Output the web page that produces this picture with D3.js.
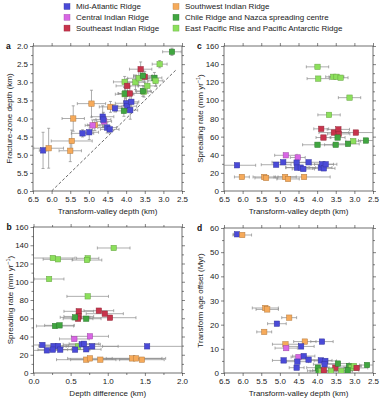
<!DOCTYPE html>
<html>
<head>
<meta charset="utf-8">
<script src="https://cdn.jsdelivr.net/npm/d3@7"></script>
<style>
  body { margin: 0; background: #fff; }
  svg { font-family: "Liberation Sans", Arial, sans-serif; }
</style>
</head>
<body>
<svg id="fig" width="382" height="400"></svg>
<script>
// ridge groups, legend order is column by column
var regions = ["Mid-Atlantic Ridge", "Central Indian Ridge", "Southeast Indian Ridge",
               "Southwest Indian Ridge", "Chile Ridge and Nazca spreading centre",
               "East Pacific Rise and Pacific Antarctic Ridge"];
var colours = ["#4a4ad8", "#d866e4", "#c8344c", "#f6aa5a", "#40a640", "#8ce05c"];

var depthTicks = [6.5, 6.0, 5.5, 5.0, 4.5, 4.0, 3.5, 3.0, 2.5];
var fzTicks = [2.0, 2.5, 3.0, 3.5, 4.0, 4.5, 5.0, 5.5, 6.0];
var rateTicks = [0, 20, 40, 60, 80, 100, 120, 140, 160];
var diffTicks = [0.0, 0.5, 1.0, 1.5, 2.0];
var ageTicks = [0, 10, 20, 30, 40, 50, 60];

// 1:1 line in panel a (transform-valley depth from..to)
var oneToOne = [6.0, 2.65];

// a: [region, valley depth, fracture-zone depth, x error, y error]
var panelA = [
  [0, 6.23, 4.88, 0.1, 0.5], [3, 6.08, 4.82, 0.4, 0.55], [3, 5.50, 4.89, 0.3, 0.3],
  [3, 5.46, 4.62, 0.55, 0.3], [3, 5.42, 4.00, 0.3, 0.35], [3, 4.93, 3.59, 0.38, 0.37],
  [3, 4.42, 3.68, 0.3, 0.15], [3, 4.84, 4.18, 0.2, 0.15], [1, 4.90, 4.19, 0.2, 0.15],
  [1, 4.59, 4.08, 0.2, 0.15], [0, 5.17, 4.41, 0.3, 0.1], [0, 4.99, 4.38, 0.25, 0.2],
  [0, 4.63, 3.95, 0.3, 0.3], [0, 4.61, 4.03, 0.2, 0.2], [0, 4.51, 4.25, 0.25, 0.15],
  [0, 4.44, 4.30, 0.25, 0.1], [0, 4.30, 3.72, 0.2, 0.1], [0, 3.99, 3.58, 0.3, 0.2],
  [0, 3.97, 3.66, 0.25, 0.15], [0, 3.86, 3.54, 0.2, 0.2], [0, 3.89, 3.77, 0.2, 0.25],
  [4, 4.06, 3.79, 0.2, 0.15], [5, 4.04, 2.99, 0.3, 0.15], [5, 4.04, 3.33, 0.25, 0.2],
  [4, 4.02, 3.31, 0.2, 0.15], [2, 3.97, 3.10, 0.3, 0.2], [2, 3.90, 3.31, 0.3, 0.2],
  [2, 3.61, 2.64, 0.3, 0.2], [2, 3.50, 2.85, 0.3, 0.15], [5, 3.75, 3.00, 0.25, 0.2],
  [5, 3.66, 2.89, 0.3, 0.2], [4, 3.55, 2.82, 0.25, 0.15], [5, 3.52, 3.26, 0.2, 0.15],
  [4, 3.55, 3.24, 0.2, 0.15], [5, 3.43, 3.10, 0.25, 0.2], [4, 3.24, 2.88, 0.2, 0.15],
  [5, 3.21, 2.96, 0.2, 0.15], [5, 3.10, 2.50, 0.2, 0.1], [4, 2.77, 2.16, 0.25, 0.1]
];

// c: [region, valley depth, spreading rate, x error]
var panelC = [
  [5, 3.99, 137, 0.3], [5, 3.97, 124, 0.3], [5, 3.57, 126, 0.2], [5, 3.48, 126, 0.2],
  [5, 3.37, 125, 0.2], [5, 3.13, 103, 0.3], [5, 3.68, 84, 0.3], [5, 3.03, 55, 0.2],
  [2, 3.89, 68.6, 0.2], [2, 3.83, 59, 0.2], [2, 3.55, 64.5, 0.4], [2, 3.43, 68, 0.3],
  [2, 3.42, 63, 0.3], [2, 2.96, 64.5, 0.5], [4, 3.99, 51, 0.4], [4, 3.50, 51, 0.3],
  [4, 3.45, 59, 0.2], [4, 3.17, 52, 0.3], [4, 2.69, 55.7, 0.2], [1, 4.84, 39.4, 0.3],
  [1, 4.52, 37, 0.2], [0, 6.15, 28.4, 0.5], [0, 5.10, 29, 0.4], [0, 4.91, 31.7, 0.3],
  [0, 4.55, 31.3, 0.3], [0, 4.54, 25.8, 0.3], [0, 4.44, 25.8, 0.4], [0, 4.37, 24.3, 0.3],
  [0, 4.23, 31.7, 0.3], [0, 3.90, 25.8, 0.3], [0, 3.86, 29.5, 0.3], [0, 3.82, 25, 0.3],
  [0, 3.77, 29.5, 0.3], [3, 6.02, 15.5, 0.2], [3, 5.42, 15.5, 0.3], [3, 5.37, 14.4, 0.3],
  [3, 4.86, 15.5, 0.3], [3, 4.78, 13.3, 0.3], [3, 4.35, 15.5, 0.7]
];

// b: [region, depth difference, spreading rate, x error]
var panelB = [
  [5, 1.08, 137, 0.22], [5, 0.26, 126, 0.3], [5, 0.33, 124.6, 0.2], [5, 0.73, 125.7, 0.15],
  [5, 0.72, 123.8, 0.2], [5, 0.21, 103, 0.2], [5, 0.73, 84, 0.28], [5, 0.60, 29, 0.2],
  [2, 0.61, 67.6, 0.2], [2, 0.61, 62, 0.2], [2, 0.60, 59.5, 0.2], [2, 0.88, 68.3, 0.2],
  [2, 0.96, 65, 0.25], [2, 1.03, 60.6, 0.35], [4, 0.56, 61, 0.2], [4, 0.71, 59.5, 0.2],
  [4, 0.29, 51.5, 0.25], [4, 0.35, 52.2, 0.2], [1, 0.55, 37.3, 0.2], [1, 0.76, 40.2, 0.25],
  [0, 0.12, 30.7, 0.2], [0, 0.18, 24.8, 0.2], [0, 0.27, 29.6, 0.2], [0, 0.33, 29.6, 0.25],
  [0, 0.36, 25.6, 0.2], [0, 0.26, 25.6, 0.2], [0, 0.56, 25.6, 0.2], [0, 0.65, 31.4, 0.25],
  [0, 0.68, 32, 0.2], [0, 0.71, 26, 0.2], [0, 0.79, 29.2, 0.35], [0, 1.53, 29.2, 0.6],
  [3, 0.71, 14.6, 0.4], [3, 0.76, 16, 0.3], [3, 0.90, 14.6, 0.4], [3, 1.33, 16, 0.4],
  [3, 1.38, 16, 0.4], [3, 1.46, 14.6, 0.3]
];

// d: [region, valley depth, age offset, x error]
var panelD = [
  [0, 6.15, 57.4, 0.1], [3, 6.01, 57.1, 0.25], [3, 5.39, 26.9, 0.35], [3, 5.34, 26.3, 0.3],
  [3, 4.75, 22.9, 0.2], [0, 5.08, 20.4, 0.25], [3, 5.42, 17, 0.2], [3, 4.85, 11.9, 0.35],
  [3, 4.33, 13, 0.3], [0, 3.87, 13, 0.3], [1, 4.83, 10.3, 0.3], [0, 4.43, 11, 0.35],
  [0, 4.90, 5.2, 0.3], [1, 4.50, 6.6, 0.2], [0, 4.36, 7.0, 0.3], [0, 4.23, 5.5, 0.3],
  [0, 4.53, 4.7, 0.3], [0, 4.55, 2.2, 0.2], [0, 3.90, 5.2, 0.3], [0, 3.78, 5.0, 0.3],
  [0, 3.80, 3.6, 0.3], [4, 3.98, 2.2, 0.3], [4, 3.96, 0.9, 0.3], [5, 3.89, 0.8, 0.3],
  [2, 3.82, 1.1, 0.3], [2, 3.51, 2.2, 0.3], [4, 3.44, 3.9, 0.3], [5, 3.35, 0.8, 0.3],
  [4, 3.14, 2.9, 0.3], [5, 3.08, 2.2, 0.2], [5, 3.01, 2.9, 0.2], [2, 2.94, 2.1, 0.3],
  [4, 2.66, 3.3, 0.2], [4, 3.18, 1.1, 0.3], [5, 3.63, 0.8, 0.3]
];

var svg = d3.select("#fig");
var f1 = d3.format(".1f"), f0 = d3.format("d");

// legend
var leg = svg.append("g").attr("font-size", 8).attr("fill", "#222");
regions.forEach(function (name, i) {
  var col = Math.floor(i / 3), row = i % 3;
  var lx = col ? 173 : 64, ly = 6.5 + row * 10.8;
  leg.append("rect").attr("x", lx).attr("y", ly - 3).attr("width", 6).attr("height", 6)
    .attr("fill", colours[i]).attr("stroke", d3.color(colours[i]).darker(0.8)).attr("stroke-width", 0.4);
  leg.append("text").attr("x", lx + 12).attr("y", ly + 2.9).text(name);
});

var panels = [
  { letter: "a", data: panelA, box: [33, 182, 46, 191], xd: [6.5, 2.5], yd: [6.0, 2.0],
    xt: depthTicks, yt: fzTicks, xm: null, ym: d3.range(2.25, 6, 0.5), xf: f1, yf: f1,
    xlab: "Transform-valley depth (km)", ylab: ["Fracture-zone depth (km)"], yerr: true },
  { letter: "c", data: panelC, box: [224, 373, 46, 191], xd: [6.5, 2.5], yd: [0, 160],
    xt: depthTicks, yt: rateTicks, xm: null, ym: d3.range(10, 160, 20), xf: f1, yf: f0,
    xlab: "Transform-valley depth (km)", ylab: ["Spreading rate (mm yr", "\u22121", ")"] },
  { letter: "b", data: panelB, box: [33.5, 182, 227, 373], xd: [0, 2], yd: [0, 160],
    xt: diffTicks, yt: rateTicks, xm: d3.range(0.25, 2, 0.5), ym: d3.range(10, 160, 20), xf: f1, yf: f0,
    xlab: "Depth difference (km)", ylab: ["Spreading rate (mm yr", "\u22121", ")"] },
  { letter: "d", data: panelD, box: [224, 373, 228, 373], xd: [6.5, 2.5], yd: [0, 60],
    xt: depthTicks, yt: ageTicks, xm: null, ym: d3.range(5, 60, 10), xf: f1, yf: f0,
    xlab: "Transform-valley depth (km)", ylab: ["Transform age offset (Myr)"] }
];

function styleAxis(sel) {
  sel.select(".domain").remove();
  sel.selectAll("line").attr("stroke", "#333").attr("stroke-width", 0.6);
  sel.selectAll("text").attr("font-size", 8).attr("fill", "#222")
    .attr("font-family", "'Liberation Sans', Arial, sans-serif");
}

function drawPanel(p, k) {
  var L = p.box[0], R = p.box[1], T = p.box[2], B = p.box[3];
  var x = d3.scaleLinear().domain(p.xd).range([L, R]);
  var y = d3.scaleLinear().domain(p.yd).range([B, T]);
  var g = svg.append("g");

  var clipId = "clip" + k;
  g.append("clipPath").attr("id", clipId).append("rect")
    .attr("x", L).attr("y", T).attr("width", R - L).attr("height", B - T);

  // ticks on all four sides, labels on bottom and left
  var defs = [
    [d3.axisBottom(x).tickValues(p.xt).tickFormat(p.xf), "translate(0," + B + ")"],
    [d3.axisTop(x).tickValues(p.xt).tickFormat(""), "translate(0," + T + ")"],
    [d3.axisLeft(y).tickValues(p.yt).tickFormat(p.yf), "translate(" + L + ",0)"],
    [d3.axisRight(y).tickValues(p.yt).tickFormat(""), "translate(" + R + ",0)"]
  ];
  defs.forEach(function (d) {
    g.append("g").attr("transform", d[1]).call(d[0].tickSize(3).tickPadding(2)).call(styleAxis);
  });
  if (p.xm) {
    g.append("g").attr("transform", "translate(0," + B + ")").call(d3.axisBottom(x).tickValues(p.xm).tickSize(2).tickFormat("")).call(styleAxis);
    g.append("g").attr("transform", "translate(0," + T + ")").call(d3.axisTop(x).tickValues(p.xm).tickSize(2).tickFormat("")).call(styleAxis);
  }
  if (p.ym) {
    g.append("g").attr("transform", "translate(" + L + ",0)").call(d3.axisLeft(y).tickValues(p.ym).tickSize(2).tickFormat("")).call(styleAxis);
    g.append("g").attr("transform", "translate(" + R + ",0)").call(d3.axisRight(y).tickValues(p.ym).tickSize(2).tickFormat("")).call(styleAxis);
  }

  g.append("rect").attr("x", L).attr("y", T).attr("width", R - L).attr("height", B - T)
    .attr("fill", "none").attr("stroke", "#333").attr("stroke-width", 0.7);

  var plot = g.append("g").attr("clip-path", "url(#" + clipId + ")");

  if (p.letter === "a") {
    plot.append("line")
      .attr("x1", x(oneToOne[0])).attr("y1", y(oneToOne[0]))
      .attr("x2", x(oneToOne[1])).attr("y2", y(oneToOne[1]))
      .attr("stroke", "#444").attr("stroke-width", 0.8).attr("stroke-dasharray", "3,2");
  }

  // error bars first, squares on top
  var eb = plot.append("g").attr("stroke", "#8a8a8a").attr("stroke-width", 0.7);
  p.data.forEach(function (d) {
    var cx = x(d[1]), cy = y(d[2]);
    var x0 = x(d[1] - d[3]), x1 = x(d[1] + d[3]);
    eb.append("line").attr("x1", x0).attr("x2", x1).attr("y1", cy).attr("y2", cy);
    eb.append("line").attr("x1", x0).attr("x2", x0).attr("y1", cy - 1.5).attr("y2", cy + 1.5);
    eb.append("line").attr("x1", x1).attr("x2", x1).attr("y1", cy - 1.5).attr("y2", cy + 1.5);
    if (p.yerr) {
      var y0 = y(d[2] - d[4]), y1 = y(d[2] + d[4]);
      eb.append("line").attr("x1", cx).attr("x2", cx).attr("y1", y0).attr("y2", y1);
      eb.append("line").attr("x1", cx - 1.5).attr("x2", cx + 1.5).attr("y1", y0).attr("y2", y0);
      eb.append("line").attr("x1", cx - 1.5).attr("x2", cx + 1.5).attr("y1", y1).attr("y2", y1);
    }
  });

  var s = 5.4;
  plot.selectAll("rect.pt").data(p.data).enter().append("rect").attr("class", "pt")
    .attr("x", function (d) { return x(d[1]) - s / 2; })
    .attr("y", function (d) { return y(d[2]) - s / 2; })
    .attr("width", s).attr("height", s)
    .attr("fill", function (d) { return colours[d[0]]; })
    .attr("stroke", function (d) { return d3.color(colours[d[0]]).darker(0.9); })
    .attr("stroke-width", 0.5);

  // titles
  g.append("text").attr("x", (L + R) / 2).attr("y", B + 23).attr("text-anchor", "middle")
    .attr("font-size", 8).attr("fill", "#222").text(p.xlab);
  var yl = g.append("text").attr("transform", "translate(" + (L - 21) + "," + ((T + B) / 2) + ") rotate(-90)")
    .attr("text-anchor", "middle").attr("font-size", 8).attr("fill", "#222");
  yl.append("tspan").text(p.ylab[0]);
  if (p.ylab.length > 1) {
    yl.append("tspan").attr("dy", -3).attr("font-size", 5.5).text(p.ylab[1]);
    yl.append("tspan").attr("dy", 3).text(p.ylab[2]);
  }
  g.append("text").attr("x", L - 27).attr("y", T + 3).attr("font-size", 8.5)
    .attr("font-weight", "bold").attr("fill", "#111").text(p.letter);
}

panels.forEach(drawPanel);
</script>
</body>
</html>
